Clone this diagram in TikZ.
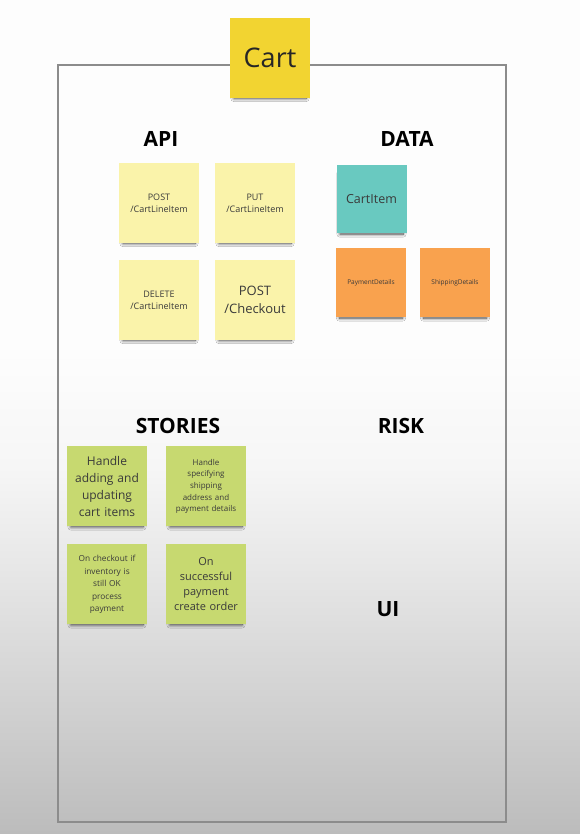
\documentclass[tikz,border=0pt]{standalone}
\usepackage{fontspec}
\setmainfont{Open Sans}
\usetikzlibrary{shadows.blur}
\definecolor{bgbot}{HTML}{BCBCBC}
\definecolor{bgtop}{HTML}{FDFDFD}
\definecolor{bgA}{HTML}{F6F6F6}
\definecolor{bgB}{HTML}{E7E7E7}
\definecolor{bgC}{HTML}{D7D7D7}
\definecolor{bgD}{HTML}{C7C7C7}
\definecolor{framecol}{HTML}{8C8C8C}
\definecolor{cartyellow}{HTML}{F2D431}
\definecolor{apiyellow}{HTML}{FAF3AA}
\definecolor{teal}{HTML}{69C9C0}
\definecolor{orangenote}{HTML}{F9A24E}
\definecolor{greennote}{HTML}{C7D970}
\definecolor{inktext}{HTML}{3A3A3A}
\pgfdeclareverticalshading{bgshade}{100bp}{color(0bp)=(bgbot); color(25bp)=(bgbot); color(29bp)=(bgD); color(35bp)=(bgC); color(41bp)=(bgB); color(47bp)=(bgA); color(54bp)=(bgtop); color(100bp)=(bgtop)}
\tikzset{
  note/.style={draw=none, inner sep=2pt, align=center, text=inktext,
    blur shadow={shadow xshift=0pt, shadow yshift=-5pt, shadow scale=0.9, shadow opacity=75, shadow blur radius=3.5pt, shadow blur steps=10},
    minimum width=80pt, minimum height=80pt, text width=76pt},
  heading/.style={font=\fontsize{21}{24}\bfseries\selectfont, text=black, inner sep=0pt},
}
\newcommand{\fs}[2]{\fontsize{#1}{#2}\selectfont}
\begin{document}
\begin{tikzpicture}[x=1pt,y=1pt]
\useasboundingbox (0,0) rectangle (580,834);
\shade[shading=bgshade] (0,0) rectangle (580,834);
% frame
\draw[framecol, line width=1.3pt] (58,769) rectangle (506,12);
% cart
\node[note, fill=cartyellow, font=\fs{27}{30}, text=black!85] (cart) at (270,776) {Cart};
% headings
\node[heading] (hapi) at (161,695) {API};
\node[heading] (hdata) at (407,695) {DATA};
\node[heading] (hstories) at (178,408) {STORIES};
\node[heading] (hrisk) at (401,408) {RISK};
\node[heading] (hui) at (388,225) {UI};
% API notes
\node[note, fill=apiyellow, font=\fs{9}{12}] (postline) at (159,631) {POST\\/CartLineItem};
\node[note, fill=apiyellow, font=\fs{9}{12}] (putline) at (255,631) {PUT\\/CartLineItem};
\node[note, fill=apiyellow, font=\fs{9}{12}] (delline) at (159,534) {DELETE\\/CartLineItem};
\node[note, fill=apiyellow, font=\fs{13}{18}] (postcheck) at (255,534) {POST\\/Checkout};
% DATA notes
\node[note, fill=teal, minimum width=68pt, minimum height=68pt, text width=66pt, font=\fs{12.5}{15}] (cartitem) at (371.5,635) {CartItem};
\node[note, fill=orangenote, minimum width=68pt, minimum height=69pt, text width=66pt, font=\fs{6.5}{8}] (payment) at (371,551.5) {PaymentDetails};
\node[note, fill=orangenote, minimum width=68pt, minimum height=69pt, text width=66pt, font=\fs{6.5}{8}] (shipping) at (455,551.5) {ShippingDetails};
% STORIES notes
\node[note, fill=greennote, font=\fs{12}{17}] (story1) at (107,347.5) {Handle\\adding and\\updating\\cart items};
\node[note, fill=greennote, font=\fs{8}{11.7}] (story2) at (206,347.5) {Handle\\specifying\\shipping\\address and\\payment details};
\node[note, fill=greennote, font=\fs{8.3}{12.5}] (story3) at (107,249.5) {On checkout if\\inventory is\\still OK\\process\\payment};
\node[note, fill=greennote, font=\fs{11}{15}] (story4) at (206,249.5) {On\\successful\\payment\\create order};
\end{tikzpicture}
\end{document}
